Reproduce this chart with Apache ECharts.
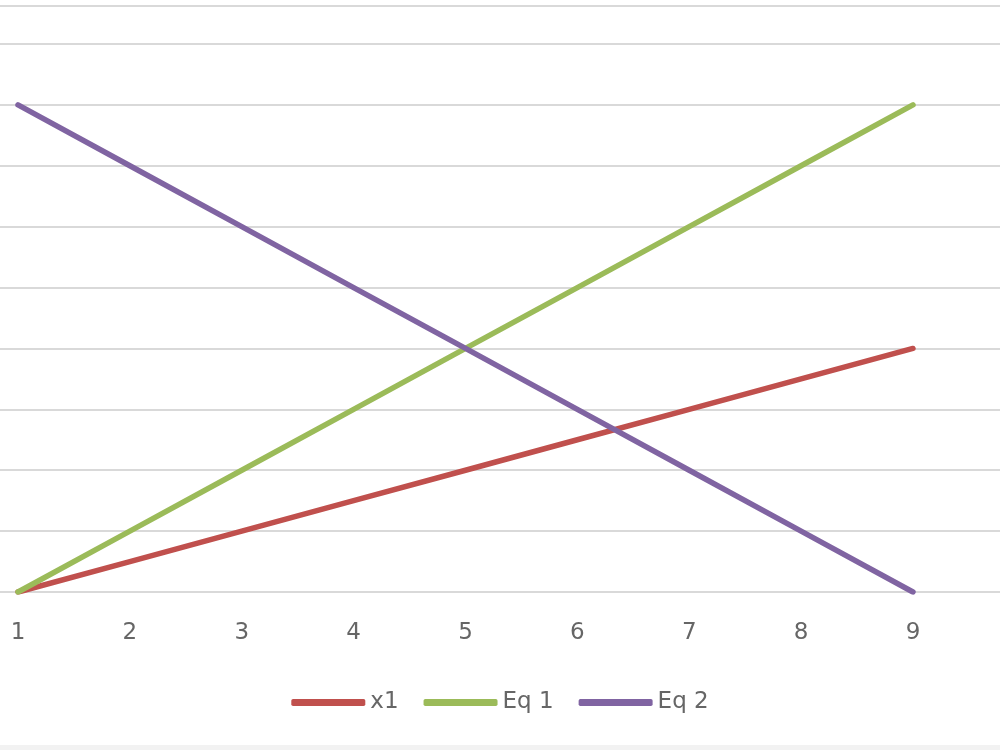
<!DOCTYPE html>
<html>
<head>
<meta charset="utf-8">
<script src="https://cdn.jsdelivr.net/npm/echarts@6/dist/echarts.min.js"></script>
<style>html,body{margin:0;padding:0;background:#fff}#c{width:1000px;height:750px}</style>
</head>
<body>
<div id="c"></div>
<script>
var xValues = [1, 2, 3, 4, 5, 6, 7, 8, 9];
var x1 = [0, 0.5, 1, 1.5, 2, 2.5, 3, 3.5, 4];
var eq1 = [0, 1, 2, 3, 4, 5, 6, 7, 8];
var eq2 = [8, 7, 6, 5, 4, 3, 2, 1, 0];
var seriesNames = ['x1', 'Eq 1', 'Eq 2'];
var colors = ['#C0504D', '#9BBB59', '#8064A2'];

function pairs(arr) { return xValues.map(function (x, i) { return [x, arr[i]]; }); }

var chart = echarts.init(document.getElementById('c'));
var font = 'DejaVu Sans';
chart.setOption({
  backgroundColor: '#ffffff',
  animation: false,
  color: colors,
  grid: { left: 0, right: 0, top: 44, bottom: 158, containLabel: false },
  xAxis: {
    type: 'value',
    min: 0.839, max: 9.778,
    axisLine: { show: true, lineStyle: { color: '#d9d9d9', width: 2 } },
    axisTick: { show: false },
    splitLine: { show: false },
    axisLabel: {
      customValues: xValues,
      color: '#666666', fontSize: 23, fontFamily: font, margin: 30
    }
  },
  yAxis: {
    type: 'value', min: 0, max: 9, interval: 1,
    axisLine: { show: false }, axisTick: { show: false },
    axisLabel: { show: false },
    splitLine: { lineStyle: { color: '#d9d9d9', width: 2 } }
  },
  legend: {
    bottom: 31, left: 'center',
    icon: 'roundRect', itemWidth: 74, itemHeight: 7, itemGap: 25,
    textStyle: { color: '#666666', fontSize: 23, fontFamily: font },
    data: seriesNames
  },
  graphic: [
    { type: 'rect', shape: { x: 0, y: 5, width: 1000, height: 2 }, style: { fill: '#d9d9d9' }, silent: true },
    { type: 'rect', shape: { x: 0, y: 745, width: 1000, height: 5 }, style: { fill: '#f2f2f2' }, silent: true }
  ],
  series: [
    { name: seriesNames[0], type: 'line', data: pairs(x1), symbol: 'none', lineStyle: { width: 5.5, color: colors[0], cap: 'round' }, itemStyle: { color: colors[0] } },
    { name: seriesNames[1], type: 'line', data: pairs(eq1), symbol: 'none', lineStyle: { width: 5.5, color: colors[1], cap: 'round' }, itemStyle: { color: colors[1] } },
    { name: seriesNames[2], type: 'line', data: pairs(eq2), symbol: 'none', lineStyle: { width: 5.5, color: colors[2], cap: 'round' }, itemStyle: { color: colors[2] } }
  ]
});
</script>
</body>
</html>
